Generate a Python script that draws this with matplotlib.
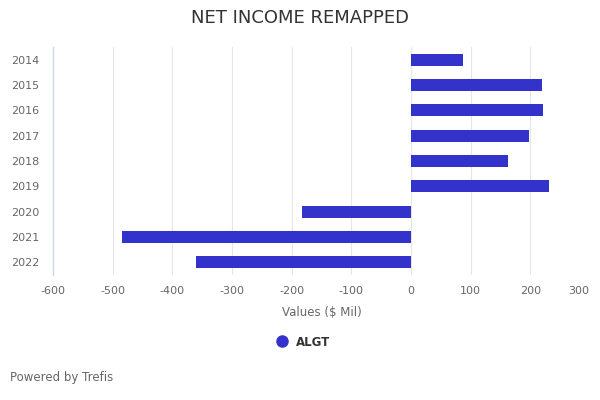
import matplotlib
matplotlib.use('Agg')
import matplotlib.pyplot as plt
from matplotlib.lines import Line2D
from matplotlib.transforms import ScaledTranslation

# Data
years = ['2014', '2015', '2016', '2017', '2018', '2019', '2020', '2021', '2022']
net_income = [87, 220, 221, 198, 162, 231, -183, -485, -361]
x_ticks = [-600, -500, -400, -300, -200, -100, 0, 100, 200, 300]
series_name = 'ALGT'

bar_color = '#3333cc'
text_color = '#666666'

fig = plt.figure(figsize=(6, 4), dpi=100)
ax = fig.add_axes([53 / 600, 1 - 275 / 400, (590 - 53) / 600, (275 - 47) / 400])

ax.barh(range(len(years)), net_income, height=0.48, color=bar_color, zorder=3)
ax.set_ylim(len(years) - 0.5, -0.5)
ax.set_yticks(range(len(years)))
ax.set_yticklabels(years)
ax.set_xlim(-600, 300)
ax.set_xticks(x_ticks)
ax.set_xticklabels([str(t) for t in x_ticks])

ax.grid(axis='x', color='#e6e6e6', linewidth=0.8, zorder=0)
for side in ['top', 'right', 'bottom']:
    ax.spines[side].set_visible(False)
ax.spines['left'].set_color('#ccd6eb')
ax.spines['left'].set_linewidth(1)

ax.tick_params(axis='both', length=0, labelsize=8, labelcolor=text_color)
ax.tick_params(axis='y', pad=10)
ax.tick_params(axis='x', pad=8)
ax.set_xlabel('Values ($ Mil)', fontsize=8.5, color=text_color, labelpad=7)

# last tick label is pushed inside the figure like in the reference
last = ax.get_xticklabels()[-1]
last.set_transform(last.get_transform() + ScaledTranslation(-0.11, 0, fig.dpi_scale_trans))

fig.text(0.5, 1 - 18 / 400, 'NET INCOME REMAPPED', ha='center', va='center',
         fontsize=13, color='#333333')

handle = Line2D([], [], marker='o', linestyle='', markersize=8,
                markerfacecolor=bar_color, markeredgecolor=bar_color)
leg = fig.legend([handle], [series_name], loc='center',
                 bbox_to_anchor=(0.5, 1 - 342 / 400), frameon=False,
                 handletextpad=0.2, prop={'weight': 'bold', 'size': 8.5})
for t in leg.get_texts():
    t.set_color('#333333')

fig.text(10 / 600, 1 - 378 / 400, 'Powered by Trefis', ha='left', va='center',
         fontsize=8.5, color=text_color)

fig.savefig('out.png', dpi=100)
